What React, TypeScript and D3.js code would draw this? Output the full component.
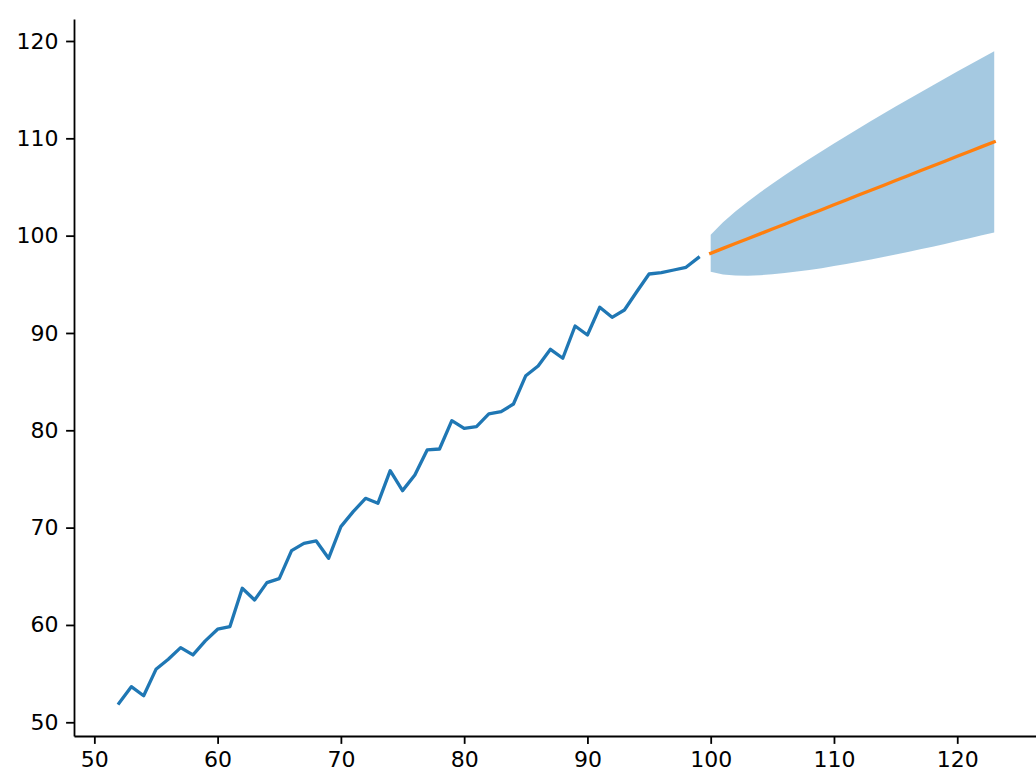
import React, { useEffect, useRef } from "react";
import * as d3 from "d3";

const W = 1036;
const H = 779;

// observed series (x = 52..99)
const obsStart = 52;
const observed = [
  51.95, 53.66, 52.73, 55.44, 56.47, 57.67, 56.92, 58.36, 59.56, 59.83,
  63.77, 62.57, 64.35, 64.76, 67.63, 68.39, 68.63, 66.85, 70.1, 71.64,
  73.01, 72.5, 75.85, 73.8, 75.41, 77.98, 78.08, 80.99, 80.2, 80.37,
  81.68, 81.91, 82.7, 85.61, 86.61, 88.32, 87.4, 90.72, 89.79, 92.64,
  91.61, 92.36, 94.24, 96.06, 96.2, 96.47, 96.75, 97.74,
];

// forecast (x = 100..123)
const fcStart = 100;
const forecast = [
  98.19, 98.69, 99.19, 99.68, 100.18, 100.68, 101.18, 101.68, 102.17, 102.67,
  103.17, 103.67, 104.17, 104.66, 105.16, 105.66, 106.16, 106.66, 107.15, 107.65,
  108.15, 108.65, 109.15, 109.64,
];
const upper = [
  100.09, 101.38, 102.48, 103.48, 104.43, 105.33, 106.21, 107.05, 107.87, 108.68,
  109.47, 110.25, 111.02, 111.77, 112.52, 113.26, 113.99, 114.72, 115.43, 116.15,
  116.86, 117.56, 118.26, 118.95,
];
const lower = [
  96.29, 96.0, 95.9, 95.88, 95.93, 96.03, 96.15, 96.31, 96.47, 96.66,
  96.87, 97.09, 97.32, 97.55, 97.8, 98.06, 98.33, 98.6, 98.87, 99.15,
  99.44, 99.74, 100.04, 100.33,
];

const xTicks = [50, 60, 70, 80, 90, 100, 110, 120];
const yTicks = [50, 60, 70, 80, 90, 100, 110, 120];

const FONT = "DejaVu Sans, sans-serif";

export default function App() {
  const xAxisRef = useRef<SVGGElement>(null);
  const yAxisRef = useRef<SVGGElement>(null);

  const x = d3.scaleLinear().domain([48.35, 126.6]).range([74, 1038.6]);
  const y = d3.scaleLinear().domain([48.59, 122.26]).range([736, 19]);

  useEffect(() => {
    document.body.style.margin = "0";
    const tick = 7.9;
    const xa = d3
      .axisBottom(x)
      .tickValues(xTicks)
      .tickSize(tick)
      .tickSizeOuter(0)
      .tickPadding(7.5)
      .tickFormat(d3.format("d"));
    const ya = d3
      .axisLeft(y)
      .tickValues(yTicks)
      .tickSize(tick)
      .tickSizeOuter(0)
      .tickPadding(7.5)
      .tickFormat(d3.format("d"));
    const gx = d3.select(xAxisRef.current!);
    gx.call(xa as any);
    const gy = d3.select(yAxisRef.current!);
    gy.call(ya as any);
    [gx, gy].forEach((g) => {
      g.selectAll(".domain").attr("stroke", "#000").attr("stroke-width", 1.8);
      g.selectAll(".tick line").attr("stroke", "#000").attr("stroke-width", 1.8);
      g.selectAll(".tick text")
        .attr("fill", "#000")
        .style("font-family", FONT)
        .style("font-size", "22px");
    });
  }, []);

  const obsPts = observed.map((v, i) => [obsStart + i, v] as [number, number]);
  const fcPts = forecast.map((v, i) => [fcStart + i, v] as [number, number]);
  const bandPts = upper.map((u, i) => ({ x: fcStart + i, u, l: lower[i] }));

  const line = d3
    .line<[number, number]>()
    .x((d) => x(d[0]))
    .y((d) => y(d[1]));
  const area = d3
    .area<{ x: number; u: number; l: number }>()
    .x((d) => x(d.x))
    .y0((d) => y(d.l))
    .y1((d) => y(d.u));

  return (
    <div style={{ position: "absolute", left: 0, top: 0 }}>
      <svg width={W} height={H} style={{ display: "block", background: "#fff" }}>
        <rect x={0} y={0} width={W} height={H} fill="#fff" />
        <path d={area(bandPts) || ""} fill="#1f77b4" fillOpacity={0.4} stroke="none" />
        <path
          d={line(obsPts) || ""}
          fill="none"
          stroke="#1f77b4"
          strokeWidth={3.3}
          strokeLinejoin="round"
          strokeLinecap="square"
        />
        <path
          d={line(fcPts) || ""}
          fill="none"
          stroke="#ff7f0e"
          strokeWidth={3.3}
          strokeLinejoin="round"
          strokeLinecap="square"
        />
        <g ref={xAxisRef} transform={`translate(0,736)`} />
        <g ref={yAxisRef} transform={`translate(74,0)`} />
      </svg>
    </div>
  );
}
